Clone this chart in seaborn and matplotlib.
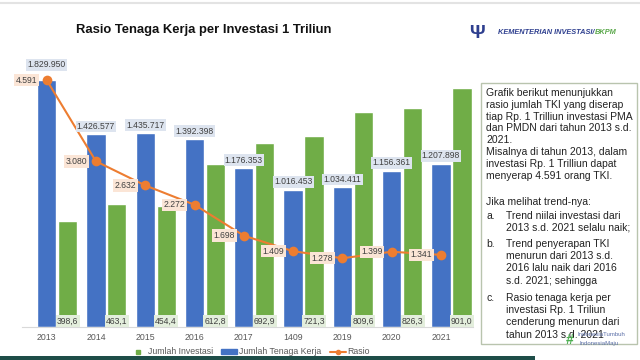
import numpy as np
import matplotlib
matplotlib.use("Agg")
import matplotlib.pyplot as plt
from matplotlib.lines import Line2D
from matplotlib.patches import Patch, Rectangle
import seaborn as sns

# data
years = ["2013", "2014", "2015", "2016", "2017", "1409", "2019", "2020", "2021"]
tenaga_kerja = [1829950, 1426577, 1435717, 1392398, 1176353, 1016453, 1034411, 1156361, 1207898]
investasi = [398.6, 463.1, 454.4, 612.8, 692.9, 721.3, 809.6, 826.3, 901.0]
rasio = [4591, 3080, 2632, 2272, 1698, 1409, 1278, 1399, 1341]

blue = "#4472C4"
green = "#70AD47"
orange = "#ED7D31"
grey_txt = "#595959"

sns.set_style("white")
plt.rcParams["font.family"] = ["Liberation Sans", "DejaVu Sans"]

fig = plt.figure(figsize=(6.4, 3.6), dpi=100)
W, H = 640, 360

# plot area in pixels: x 22..473, y 62..327
ax = fig.add_axes([22 / W, 1 - 327 / H, 451 / W, 265 / H])
ax2 = ax.twinx()
ax3 = ax.twinx()

sns.barplot(x=years, y=tenaga_kerja, ax=ax, color=blue, width=0.39, saturation=1)
pos = np.arange(len(years))
ax2.bar(pos + 0.425, investasi, width=0.39, color=green)
sns.lineplot(x=pos, y=rasio, ax=ax3, color=orange, lw=1.5, marker="o",
             markersize=7, markeredgewidth=0)

ax.set_xlim(-0.5, 8.65)
ax.set_ylim(0, 1963000)
ax2.set_ylim(0, 999)
ax3.set_ylim(0, 4926)

for a in (ax, ax2, ax3):
    a.set_yticks([])
    a.set_ylabel("")
    for s in a.spines.values():
        s.set_visible(False)
ax.spines["bottom"].set_visible(True)
ax.spines["bottom"].set_color("#d9d9d9")
ax.set_xticks(pos)
ax.set_xticklabels(years)
ax.tick_params(axis="x", length=0, pad=4, labelsize=6.3, labelcolor=grey_txt)

# data labels
for i, v in enumerate(tenaga_kerja):
    off = 15 if i == 0 else 8
    ax3.annotate(f"{v:,}".replace(",", "."), xy=(i, v), xycoords=ax.transData,
                 xytext=(0, off), textcoords="offset pixels", ha="center", va="center",
                 fontsize=6.2, color="#404040",
                 bbox=dict(boxstyle="square,pad=0.15", fc="#dde4ef", ec="none"))
for i, v in enumerate(investasi):
    ax3.annotate(f"{v:.1f}".replace(".", ","), xy=(i + 0.425, 0), xycoords=ax.transData,
                 xytext=(0, 6), textcoords="offset pixels", ha="center", va="center",
                 fontsize=6.2, color="#404040",
                 bbox=dict(boxstyle="square,pad=0.15", fc="#e3eedc", ec="none"))
for i, v in enumerate(rasio):
    ax3.annotate(f"{v:,}".replace(",", "."), xy=(i, v), xytext=(-9, 0),
                 textcoords="offset pixels", ha="right", va="center",
                 fontsize=6.2, color="#404040",
                 bbox=dict(boxstyle="square,pad=0.2", fc="#fbe5d6", ec="none"))

# legend
handles = [
    Line2D([], [], marker="s", color=green, ls="none", markersize=3.5),
    Patch(color=blue),
    Line2D([], [], color=orange, lw=1.5, marker="o", markersize=3),
]
fig.legend(handles, ["Jumlah Investasi", "Jumlah Tenaga Kerja", "Rasio"],
           loc="center", bbox_to_anchor=(250 / W, 1 - 352 / H), ncol=3, frameon=False,
           fontsize=6.3, labelcolor=grey_txt, handlelength=1.8, handleheight=0.6,
           handletextpad=0.2, columnspacing=1.0)

# title and logo
fig.text(204 / W, 1 - 30 / H, "Rasio Tenaga Kerja per Investasi 1 Triliun",
         ha="center", va="center", fontsize=9.4, fontweight="bold", color="#111111")
fig.text(477 / W, 1 - 33 / H, "Ψ", ha="center", va="center", fontsize=14,
         fontweight="bold", color="#2e3f8f")
logo = fig.text(498 / W, 1 - 33 / H, "KEMENTERIAN INVESTASI/", ha="left", va="center",
                fontsize=5.3, fontweight="bold", style="italic", color="#2e3f8f")
ax3.annotate("BKPM", xy=(1, 0.5), xycoords=logo, xytext=(0.5, 0),
             textcoords="offset pixels", ha="left", va="center", fontsize=5.3,
             fontweight="bold", style="italic", color="#5aa84a", annotation_clip=False)

# text box on the right
fig.patches.append(Rectangle((481 / W, 1 - 344 / H), 156 / W, 261 / H,
                             transform=fig.transFigure, fc="white", ec="#b9c4ae", lw=1))
lines = [
    (0, 92.7, "", "Grafik berikut menunjukkan"),
    (0, 104.6, "", "rasio jumlah TKI yang diserap"),
    (0, 116.5, "", "tiap Rp. 1 Trilliun investasi PMA"),
    (0, 128.4, "", "dan PMDN dari tahun 2013 s.d."),
    (0, 140.3, "", "2021."),
    (0, 152.2, "", "Misalnya di tahun 2013, dalam"),
    (0, 164.1, "", "investasi Rp. 1 Trilliun dapat"),
    (0, 176.0, "", "menyerap 4.591 orang TKI."),
    (0, 201.7, "", "Jika melihat trend-nya:"),
    (1, 216.0, "a.", "Trend niilai investasi dari"),
    (1, 228.0, "", "2013 s.d. 2021 selalu naik;"),
    (1, 244.0, "b.", "Trend penyerapan TKI"),
    (1, 256.0, "", "menurun dari 2013 s.d."),
    (1, 268.0, "", "2016 lalu naik dari 2016"),
    (1, 280.5, "", "s.d. 2021; sehingga"),
    (1, 298.0, "c.", "Rasio tenaga kerja per"),
    (1, 310.0, "", "investasi Rp. 1 Triliun"),
    (1, 322.0, "", "cenderung menurun dari"),
    (1, 334.5, "", "tahun 2013 s.d. 2021"),
]
for indent, y, bullet, txt in lines:
    x = 505.5 if indent else 486.5
    fig.text(x / W, 1 - y / H, txt, ha="left", va="center", fontsize=7.5, color="#222222")
    if bullet:
        fig.text(486.5 / W, 1 - y / H, bullet, ha="left", va="center", fontsize=7.5,
                 color="#222222")

# watermark tag
fig.text(570 / W, 1 - 340 / H, "#", ha="center", va="center", fontsize=10,
         fontweight="bold", color="#4caf50")
fig.text(577 / W, 1 - 334 / H, "IndonesiaTumbuh", ha="left", va="center",
         fontsize=4.3, color="#5b6fa8")
fig.text(579 / W, 1 - 343 / H, "IndonesiaMaju", ha="left", va="center",
         fontsize=4.3, color="#5b6fa8")

# slide decorations
fig.add_artist(Line2D([0, 1], [1 - 2.5 / H, 1 - 2.5 / H], color="#e3e3e3", lw=1.5))
fig.patches.append(Rectangle((0, 0), 535 / W, 4 / H, transform=fig.transFigure,
                             fc="#1e4d48", ec="none"))

fig.savefig("out.png", dpi=100)
